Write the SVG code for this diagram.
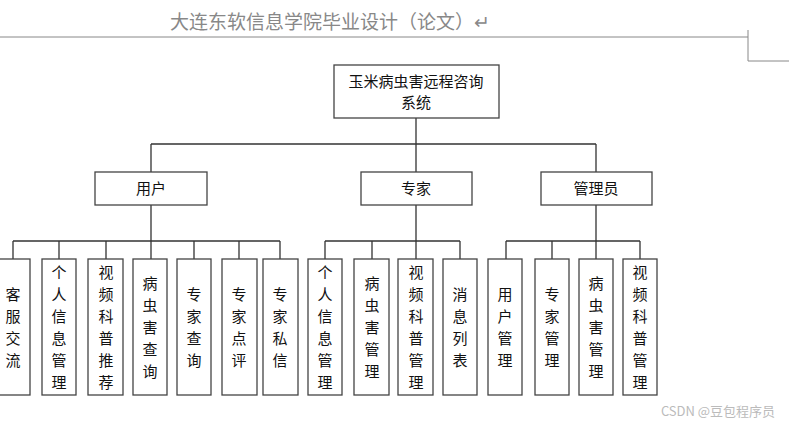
<svg xmlns="http://www.w3.org/2000/svg" width="789" height="425" viewBox="0 0 789 425">
<style>
.b{fill:#fff;stroke:#444;stroke-width:1.3}
.t{font-family:"Noto Sans CJK SC",sans-serif;font-size:15px;fill:#111;text-anchor:middle}
.c{stroke:#333;stroke-width:1.3;fill:none}
</style>
<rect width="789" height="425" fill="#fff"/>
<text x="330" y="29" font-family="Noto Sans CJK SC,serif" font-size="19" fill="#888" text-anchor="middle">大连东软信息学院毕业设计（论文）↵</text>
<path d="M0 37H748M748 30V61H789" stroke="#888" fill="none"/>
<g id="connectors" class="c">
<path d="M416 118V144M151 144H596M151 144V172M416 144V172M596 144V172"/>
<path d="M151 205V259M13 241H280M13 241V259M59 241V259M106 241V259M194 241V259M239 241V259M280 241V259"/>
<path d="M416 205V259M325 241H460M325 241V259M372 241V259M460 241V259"/>
<path d="M596 205V259M506 241H640M506 241V259M552 241V259M640 241V259"/>
</g>
<g id="root"><rect class="b" x="334" y="65" width="165" height="53"/><text class="t" x="416" y="87">玉米病虫害远程咨询</text><text class="t" x="416" y="108">系统</text></g>
<g id="user"><rect class="b" x="95" y="172" width="112" height="33"/><text class="t" x="151" y="194">用户</text></g>
<g id="expert"><rect class="b" x="361" y="172" width="111" height="33"/><text class="t" x="416" y="194">专家</text></g>
<g id="admin"><rect class="b" x="541" y="172" width="111" height="33"/><text class="t" x="596" y="194">管理员</text></g>
<g id="l1"><rect class="b" x="-5" y="259" width="35" height="136"/><text class="t" x="13"><tspan x="13" y="300">客</tspan><tspan x="13" y="322">服</tspan><tspan x="13" y="344">交</tspan><tspan x="13" y="366">流</tspan></text></g>
<g id="l2"><rect class="b" x="42" y="259" width="34" height="136"/><text class="t"><tspan x="59" y="278">个</tspan><tspan x="59" y="300">人</tspan><tspan x="59" y="322">信</tspan><tspan x="59" y="344">息</tspan><tspan x="59" y="366">管</tspan><tspan x="59" y="388">理</tspan></text></g>
<g id="l3"><rect class="b" x="88" y="259" width="35" height="136"/><text class="t"><tspan x="106" y="278">视</tspan><tspan x="106" y="300">频</tspan><tspan x="106" y="322">科</tspan><tspan x="106" y="344">普</tspan><tspan x="106" y="366">推</tspan><tspan x="106" y="388">荐</tspan></text></g>
<g id="l4"><rect class="b" x="133" y="259" width="34" height="136"/><text class="t"><tspan x="150" y="289">病</tspan><tspan x="150" y="311">虫</tspan><tspan x="150" y="333">害</tspan><tspan x="150" y="355">查</tspan><tspan x="150" y="377">询</tspan></text></g>
<g id="l5"><rect class="b" x="177" y="259" width="34" height="136"/><text class="t"><tspan x="194" y="300">专</tspan><tspan x="194" y="322">家</tspan><tspan x="194" y="344">查</tspan><tspan x="194" y="366">询</tspan></text></g>
<g id="l6"><rect class="b" x="222" y="259" width="35" height="136"/><text class="t"><tspan x="239" y="300">专</tspan><tspan x="239" y="322">家</tspan><tspan x="239" y="344">点</tspan><tspan x="239" y="366">评</tspan></text></g>
<g id="l7"><rect class="b" x="263" y="259" width="35" height="136"/><text class="t"><tspan x="280" y="300">专</tspan><tspan x="280" y="322">家</tspan><tspan x="280" y="344">私</tspan><tspan x="280" y="366">信</tspan></text></g>
<g id="e1"><rect class="b" x="308" y="259" width="34" height="136"/><text class="t"><tspan x="325" y="278">个</tspan><tspan x="325" y="300">人</tspan><tspan x="325" y="322">信</tspan><tspan x="325" y="344">息</tspan><tspan x="325" y="366">管</tspan><tspan x="325" y="388">理</tspan></text></g>
<g id="e2"><rect class="b" x="354" y="259" width="35" height="136"/><text class="t"><tspan x="372" y="289">病</tspan><tspan x="372" y="311">虫</tspan><tspan x="372" y="333">害</tspan><tspan x="372" y="355">管</tspan><tspan x="372" y="377">理</tspan></text></g>
<g id="e3"><rect class="b" x="398" y="259" width="35" height="136"/><text class="t"><tspan x="416" y="278">视</tspan><tspan x="416" y="300">频</tspan><tspan x="416" y="322">科</tspan><tspan x="416" y="344">普</tspan><tspan x="416" y="366">管</tspan><tspan x="416" y="388">理</tspan></text></g>
<g id="e4"><rect class="b" x="443" y="259" width="34" height="136"/><text class="t"><tspan x="460" y="300">消</tspan><tspan x="460" y="322">息</tspan><tspan x="460" y="344">列</tspan><tspan x="460" y="366">表</tspan></text></g>
<g id="a1"><rect class="b" x="488" y="259" width="34" height="136"/><text class="t"><tspan x="505" y="300">用</tspan><tspan x="505" y="322">户</tspan><tspan x="505" y="344">管</tspan><tspan x="505" y="366">理</tspan></text></g>
<g id="a2"><rect class="b" x="535" y="259" width="34" height="136"/><text class="t"><tspan x="552" y="300">专</tspan><tspan x="552" y="322">家</tspan><tspan x="552" y="344">管</tspan><tspan x="552" y="366">理</tspan></text></g>
<g id="a3"><rect class="b" x="579" y="259" width="34" height="136"/><text class="t"><tspan x="596" y="289">病</tspan><tspan x="596" y="311">虫</tspan><tspan x="596" y="333">害</tspan><tspan x="596" y="355">管</tspan><tspan x="596" y="377">理</tspan></text></g>
<g id="a4"><rect class="b" x="623" y="259" width="34" height="136"/><text class="t"><tspan x="640" y="278">视</tspan><tspan x="640" y="300">频</tspan><tspan x="640" y="322">科</tspan><tspan x="640" y="344">普</tspan><tspan x="640" y="366">管</tspan><tspan x="640" y="388">理</tspan></text></g>
<text x="718" y="416" font-family="Noto Sans CJK SC,sans-serif" font-size="13" fill="#bbb" text-anchor="middle">CSDN @豆包程序员</text>
</svg>
